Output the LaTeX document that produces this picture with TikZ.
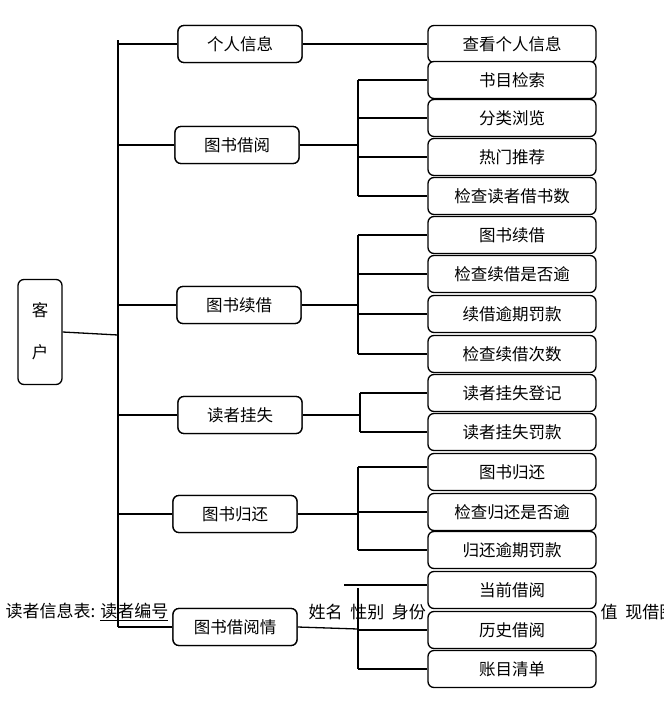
\documentclass[tikz,border=0pt]{standalone}
\usepackage{fontspec}
\setmainfont{Noto Sans CJK SC}
\begin{document}
\begin{tikzpicture}[x=1pt,y=-1pt,line width=1.3pt,
  box/.style={draw,fill=white,rounded corners=6pt,minimum height=37pt,inner sep=0pt,font=\fontsize{16.5}{18}\selectfont},
  mid/.style={box,minimum width=124pt},
  rb/.style={box,minimum width=168pt},
  bg/.style={font=\fontsize{17}{19}\selectfont,inner sep=0pt,anchor=west}]
\useasboundingbox (0,0) rectangle (664,713);
% stray text line behind
\node[bg] (t1) at (5,612) {读者信息表: \underline{读者编号}};
\node[bg] (t2) at (308,612) {姓名\ \ 性别\ \ 身份};
\node[bg] (t3) at (600,612) {值\ \ 现借图};
% client
\node[box,minimum width=44pt,minimum height=105pt] (c) at (40,332) {};
\node[font=\fontsize{16.5}{18}\selectfont] (c1) at (40,310) {客};
\node[font=\fontsize{16.5}{18}\selectfont] (c2) at (40,352) {户};
\coordinate (tt) at (118,40);
\coordinate (tb) at (118,627);
\draw (tt) -- (tb);
\draw (c.east) -- (118,335);
% mid boxes
\node[mid] (m1) at (240,44) {个人信息};
\node[mid] (m2) at (237,145) {图书借阅};
\node[mid] (m3) at (239,305) {图书续借};
\node[mid] (m4) at (240,415) {读者挂失};
\node[mid] (m5) at (235,514) {图书归还};
\node[mid] (m6) at (235,627) {图书借阅情};
\foreach \m in {m1,m2,m3,m4,m5} \draw (118,0 |- \m.west) -- (\m.west);
\draw (tb) -- (m6.west);
% right boxes
\foreach \n/\y/\t in {r1/44/查看个人信息,r2/80/书目检索,r3/118/分类浏览,r4/157/热门推荐,r5/196/检查读者借书数,
  r6/235/图书续借,r7/274/检查续借是否逾,r8/314/续借逾期罚款,r9/354/检查续借次数,
  r10/393/读者挂失登记,r11/432/读者挂失罚款,r12/472/图书归还,r13/512/检查归还是否逾,r14/550/归还逾期罚款,
  r15/590/当前借阅,r16/630/历史借阅,r17/669/账目清单}
  \node[rb] (\n) at (512,\y) {\t};
\draw (m1.east) -- (r1.west);
% groups
\draw (358,80) -- (358,196);
\foreach \r in {r2,r3,r4,r5} \draw (358,0 |- \r.west) -- (\r.west);
\draw (m2.east) -- (358,145);
\draw (358,235) -- (358,354);
\foreach \r in {r6,r7,r8,r9} \draw (358,0 |- \r.west) -- (\r.west);
\draw (m3.east) -- (358,305);
\draw (360,393) -- (360,432);
\foreach \r in {r10,r11} \draw (360,0 |- \r.west) -- (\r.west);
\draw (m4.east) -- (360,415);
\draw (358,467) -- (358,550);
\foreach \r in {r13,r14} \draw (358,0 |- \r.west) -- (\r.west);
\draw (358,467) -- (r12.west |- 0,467);
\draw (m5.east) -- (358,514);
\draw (358,588) -- (358,669);
\draw (344,585) -- (r15.west |- 0,585);
\foreach \r in {r16,r17} \draw (358,0 |- \r.west) -- (\r.west);
\draw (m6.east) -- (358,629);
% redraw boxes over the lines
\foreach \m/\t in {m1/个人信息,m2/图书借阅,m3/图书续借,m4/读者挂失,m5/图书归还,m6/图书借阅情}
  \node[mid] at (\m) {\t};
\end{tikzpicture}
\end{document}
